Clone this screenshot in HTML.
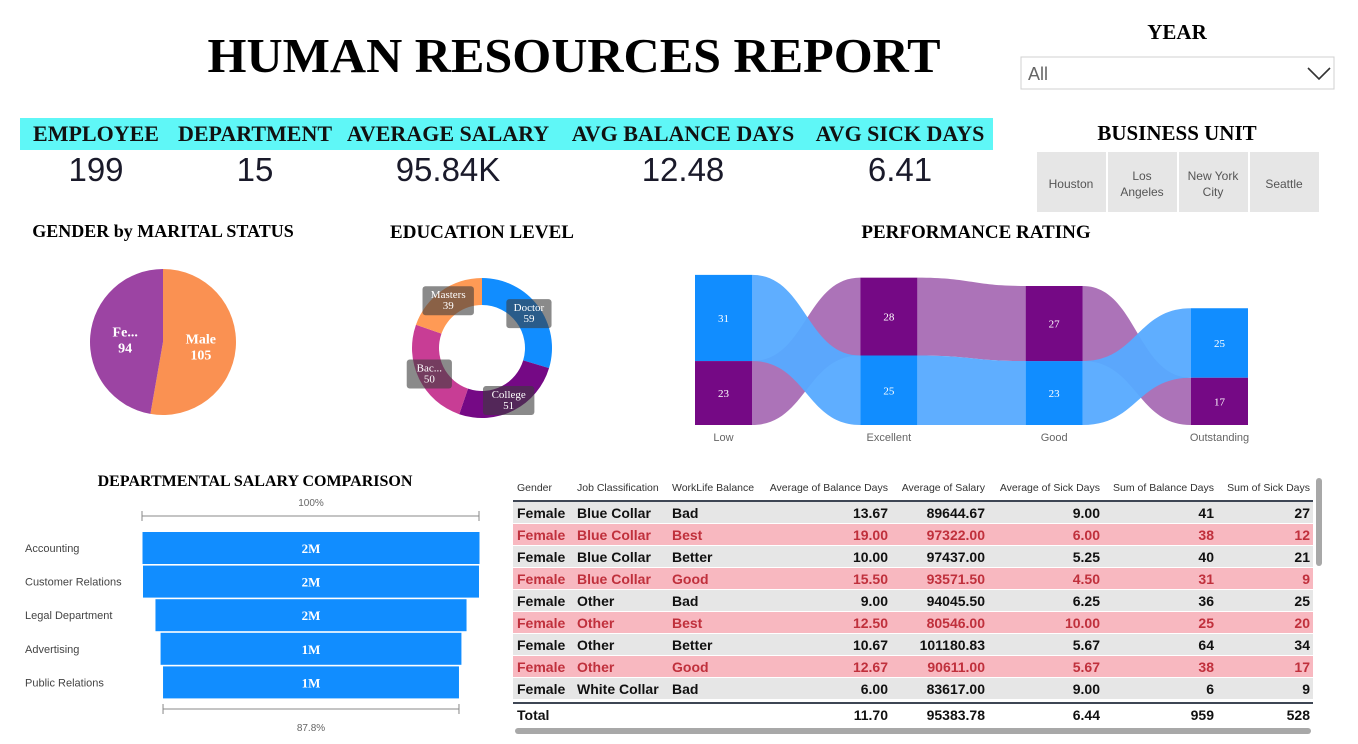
<!DOCTYPE html>
<html><head><meta charset="utf-8"><style>
html,body{margin:0;padding:0;background:#fff;}
svg{display:block;}
.serif{font-family:"Liberation Serif",serif;font-weight:bold;}
.sans{font-family:"Liberation Sans","DejaVu Sans",sans-serif;}
</style></head><body>
<svg id="root" width="1358" height="744" viewBox="0 0 1358 744" xmlns="http://www.w3.org/2000/svg">
<text class="serif" x="574" y="72" font-size="49" text-anchor="middle" textLength="733" lengthAdjust="spacingAndGlyphs" fill="#000">HUMAN RESOURCES REPORT</text>

<text class="serif" x="1177" y="39" font-size="21" text-anchor="middle">YEAR</text>
<g>
<rect x="1021" y="57" width="313" height="32" fill="#fff" stroke="#d0d0d0"/>
<text class="sans" x="1028" y="80" font-size="18" fill="#666">All</text>
<path d="M1308 68 L1319 79 L1330 68" fill="none" stroke="#333" stroke-width="1.6"/>
</g>

<text class="serif" x="1177" y="140" font-size="21" text-anchor="middle">BUSINESS UNIT</text>
<g>
<g><rect x="1037" y="152" width="69" height="60" fill="#e6e6e6"/><text class="sans" x="1071" y="188" font-size="12" text-anchor="middle" fill="#555">Houston</text></g>
<g><rect x="1108" y="152" width="69" height="60" fill="#e6e6e6"/><text class="sans" x="1142" y="180" font-size="12" text-anchor="middle" fill="#555">Los</text><text class="sans" x="1142" y="196" font-size="12" text-anchor="middle" fill="#555">Angeles</text></g>
<g><rect x="1179" y="152" width="69" height="60" fill="#e6e6e6"/><text class="sans" x="1213" y="180" font-size="12" text-anchor="middle" fill="#555">New York</text><text class="sans" x="1213" y="196" font-size="12" text-anchor="middle" fill="#555">City</text></g>
<g><rect x="1250" y="152" width="69" height="60" fill="#e6e6e6"/><text class="sans" x="1284" y="188" font-size="12" text-anchor="middle" fill="#555">Seattle</text></g>
</g>

<rect x="20" y="118" width="973" height="32" fill="#5ff7f7"/>
<g class="serif" font-size="22" text-anchor="middle" fill="#111">
<text x="96" y="141">EMPLOYEE</text>
<text x="255" y="141">DEPARTMENT</text>
<text x="448" y="141">AVERAGE SALARY</text>
<text x="683" y="141">AVG BALANCE DAYS</text>
<text x="900" y="141">AVG SICK DAYS</text>
</g>
<g class="sans" font-size="33" text-anchor="middle" fill="#1a1a2a">
<text x="96" y="181">199</text>
<text x="255" y="181">15</text>
<text x="448" y="181">95.84K</text>
<text x="683" y="181">12.48</text>
<text x="900" y="181">6.41</text>
</g>

<text class="serif" x="163" y="237" font-size="18" text-anchor="middle">GENDER by MARITAL STATUS</text>
<g id="pie"></g>
<text class="serif" x="482" y="238" font-size="19" text-anchor="middle">EDUCATION LEVEL</text>
<g id="donut"></g>
<text class="serif" x="976" y="238" font-size="19" text-anchor="middle">PERFORMANCE RATING</text>
<g id="ribbon"></g>

<text class="serif" x="255" y="486" font-size="16" text-anchor="middle">DEPARTMENTAL SALARY COMPARISON</text>
<g id="funnel"></g>

<g id="table"></g>
</svg>
<script>
const NS="http://www.w3.org/2000/svg";
function mk(tag,attrs,parent,txt){const e=document.createElementNS(NS,tag);for(const k in attrs)e.setAttribute(k,attrs[k]);if(txt!==undefined)e.textContent=txt;parent.appendChild(e);return e;}

// ---- Pie data
const genderLabels=["Male","Fe..."];
const genderValues=[105,94];
const genderColors=["#fa9152","#9c44a3"];
// ---- Donut data
const eduLabels=["Doctor","College","Bac...","Masters"];
const eduValues=[59,51,50,39];
const eduColors=["#118dff","#750985","#c83d95","#ff9a55"];
// ---- Ribbon data
const perfCategories=["Low","Excellent","Good","Outstanding"];
const perfBlue=[31,25,23,25];
const perfPurple=[23,28,27,17];
// ---- Funnel data
const deptNames=["Accounting","Customer Relations","Legal Department","Advertising","Public Relations"];
const deptSalary=[1.65,1.645,1.523,1.473,1.449];
// ---- Table data
const tblHeaders=["Gender","Job Classification","WorkLife Balance","Average of Balance Days","Average of Salary","Average of Sick Days","Sum of Balance Days","Sum of Sick Days"];
const tblGender=["Female","Female","Female","Female","Female","Female","Female","Female","Female"];
const tblJob=["Blue Collar","Blue Collar","Blue Collar","Blue Collar","Other","Other","Other","Other","White Collar"];
const tblWork=["Bad","Best","Better","Good","Bad","Best","Better","Good","Bad"];
const tblAvgBal=["13.67","19.00","10.00","15.50","9.00","12.50","10.67","12.67","6.00"];
const tblAvgSal=["89644.67","97322.00","97437.00","93571.50","94045.50","80546.00","101180.83","90611.00","83617.00"];
const tblAvgSick=["9.00","6.00","5.25","4.50","6.25","10.00","5.67","5.67","9.00"];
const tblSumBal=["41","38","40","31","36","25","64","38","6"];
const tblSumSick=["27","12","21","9","25","20","34","17","9"];
const tblTotal=["Total","","","11.70","95383.78","6.44","959","528"];

function arcPath(cx,cy,r0,r1,a0,a1){
 const p=(r,a)=>[cx+r*Math.sin(a),cy-r*Math.cos(a)];
 const lg=(a1-a0)>Math.PI?1:0;
 const [x1,y1]=p(r1,a0),[x2,y2]=p(r1,a1);
 if(r0===0)return `M${cx} ${cy} L${x1} ${y1} A${r1} ${r1} 0 ${lg} 1 ${x2} ${y2} Z`;
 const [x3,y3]=p(r0,a1),[x4,y4]=p(r0,a0);
 return `M${x1} ${y1} A${r1} ${r1} 0 ${lg} 1 ${x2} ${y2} L${x3} ${y3} A${r0} ${r0} 0 ${lg} 0 ${x4} ${y4} Z`;
}
// Pie
(function(){
 const g=document.getElementById('pie');const cx=163,cy=342,r=73;
 const tot=genderValues.reduce((a,b)=>a+b,0);let a=0;
 genderValues.forEach((v,i)=>{
  const a1=a+v/tot*2*Math.PI;
  const s=mk('path',{d:arcPath(cx,cy,0,r,a,a1),fill:genderColors[i]},g);
  
  
  const m=(a+a1)/2,lr=r*0.52;
  const lx=cx+lr*Math.sin(m),ly=cy-lr*Math.cos(m);
  const t=mk('text',{x:lx,y:ly-2,'text-anchor':'middle',fill:'#fff','font-size':14,'font-weight':'bold','font-family':'Liberation Serif,serif'},g,genderLabels[i]);
  
  const t2=mk('text',{x:lx,y:ly+14,'text-anchor':'middle',fill:'#fff','font-size':14,'font-weight':'bold','font-family':'Liberation Serif,serif'},g,String(v));
  
  a=a1;
 });
})();
// Donut
(function(){
 const g=document.getElementById('donut');const cx=482,cy=348,r1=70,r0=43;
 const tot=eduValues.reduce((a,b)=>a+b,0);let a=0;
 const segs=[];
 eduValues.forEach((v,i)=>{
  const a1=a+v/tot*2*Math.PI;
  const s=mk('path',{d:arcPath(cx,cy,r0,r1,a,a1),fill:eduColors[i]},g);
  
  segs.push([a,a1]);a=a1;
 });
 eduValues.forEach((v,i)=>{
  const m=(segs[i][0]+segs[i][1])/2,lr=(r0+r1)/2+2;
  const lx=cx+lr*Math.sin(m),ly=cy-lr*Math.cos(m);
  const w=Math.max(eduLabels[i].length*6.2+8,36);
  const b=mk('rect',{x:lx-w/2,y:ly-14,width:w,height:29,rx:3,fill:'rgba(60,60,60,0.6)'},g);
  
  const t=mk('text',{x:lx,y:ly-2,'text-anchor':'middle',fill:'#fff','font-size':11,'font-family':'Liberation Serif,serif'},g,eduLabels[i]);
  
  const t2=mk('text',{x:lx,y:ly+9,'text-anchor':'middle',fill:'#fff','font-size':11,'font-family':'Liberation Serif,serif'},g,String(v));
  
 });
})();
// Ribbon
(function(){
 const g=document.getElementById('ribbon');
 const base=425,k=2.78,colW=57,x0=695,x1=1191;
 const n=perfCategories.length;const step=(x1-x0)/(n-1);
 const xs=perfCategories.map((c,i)=>x0+i*step);
 const pos=perfCategories.map((c,i)=>{
  const b=perfBlue[i]*k,p=perfPurple[i]*k;
  if(perfBlue[i]>=perfPurple[i]) return {blue:[base-b-p,base-p],purple:[base-p,base]};
  return {purple:[base-b-p,base-b],blue:[base-b,base]};
 });
 const cols={blue:["#118dff","#56aaff"],purple:["#750985","rgba(132,48,150,0.8)"]};
 for(let i=0;i<n-1;i++){
  ["purple","blue"].forEach(s=>{
   const a=pos[i][s],b=pos[i+1][s];const xa=xs[i]+colW,xb=xs[i+1];const xm=(xa+xb)/2;
   const d=`M${xa} ${a[0]} C${xm} ${a[0]} ${xm} ${b[0]} ${xb} ${b[0]} L${xb} ${b[1]} C${xm} ${b[1]} ${xm} ${a[1]} ${xa} ${a[1]} Z`;
   const p=mk('path',{d:d,fill:cols[s][1],opacity:s==='blue'?0.95:0.85},g);
   
  });
 }
 perfCategories.forEach((c,i)=>{
  ["blue","purple"].forEach(s=>{
   const r=pos[i][s];
   const rc=mk('rect',{x:xs[i],y:r[0],width:colW,height:r[1]-r[0],fill:cols[s][0]},g);
   
   const t=mk('text',{x:xs[i]+colW/2,y:(r[0]+r[1])/2+4,'text-anchor':'middle',fill:'#fff','font-size':11,'font-family':'Liberation Serif,serif'},g,String(s==='blue'?perfBlue[i]:perfPurple[i]));
   
  });
  const l=mk('text',{x:xs[i]+colW/2,y:441,'text-anchor':'middle',fill:'#666','font-size':11,'font-family':'Liberation Sans,sans-serif'},g,c);
  
 });
})();
// Funnel
(function(){
 const g=document.getElementById('funnel');
 const cx=311,maxW=337,top=532,rowH=33.6,barH=32;
 const mx=Math.max(...deptSalary);
 const F='Liberation Sans,sans-serif';
 let l1=mk('path',{d:`M142 511 V521 M142 516 H479 M479 511 V521`,stroke:'#888',fill:'none'},g);
 
 let t=mk('text',{x:cx,y:506,'text-anchor':'middle','font-size':10,fill:'#666','font-family':F},g,'100%');
 
 deptNames.forEach((d,i)=>{
  const w=deptSalary[i]/mx*maxW,y=top+i*rowH;
  const r=mk('rect',{x:cx-w/2,y:y,width:w,height:barH,fill:'#118dff'},g);
  
  const lb=mk('text',{x:cx,y:y+barH/2+5,'text-anchor':'middle',fill:'#fff','font-size':13,'font-weight':'bold','font-family':'Liberation Serif,serif'},g,Math.round(deptSalary[i])+'M');
  
  const c=mk('text',{x:25,y:y+barH/2+4,'font-size':11,fill:'#444','font-family':F},g,d);
  
 });
 const last=deptSalary[deptSalary.length-1]/mx*maxW;
 const l2=mk('path',{d:`M${cx-last/2} 704 V714 M${cx-last/2} 709 H${cx+last/2} M${cx+last/2} 704 V714`,stroke:'#888',fill:'none'},g);
 
 t=mk('text',{x:cx,y:731,'text-anchor':'middle','font-size':10,fill:'#666','font-family':F},g,(deptSalary[deptSalary.length-1]/mx*100).toFixed(1)+'%');
 
})();
// Table
(function(){
 const g=document.getElementById('table');
 const F='Liberation Sans,DejaVu Sans,sans-serif';
 const hx=[517,577,672,888,985,1100,1214,1310];
 tblHeaders.forEach((h,i)=>{
  const t=mk('text',{x:hx[i],y:491,'font-size':10.5,fill:'#333','font-family':F,'text-anchor':i<3?'start':'end'},g,h);
  
 });
 const hl=mk('rect',{x:513,y:500,width:800,height:2,fill:'#3e4654'},g);
 
 const cols=[tblGender,tblJob,tblWork,tblAvgBal,tblAvgSal,tblAvgSick,tblSumBal,tblSumSick];
 for(let r=0;r<tblGender.length;r++){
  const y=502+r*22;const alt=r%2===1;
  const bg=mk('rect',{x:513,y:y,width:800,height:21,fill:alt?'#f8b8c0':'#e6e6e6'},g);
  
  cols.forEach((c,i)=>{
   const t=mk('text',{x:hx[i],y:y+16,'font-size':14,'font-weight':'bold',fill:alt?'#c0303c':'#111','font-family':F,'text-anchor':i<3?'start':'end'},g,c[r]);
   
  });
 }
 const tl=mk('rect',{x:513,y:702,width:800,height:2,fill:'#3e4654'},g);
 
 tblTotal.forEach((v,i)=>{
  if(!v)return;
  const t=mk('text',{x:hx[i],y:720,'font-size':14,'font-weight':'bold',fill:'#111','font-family':F,'text-anchor':i<3?'start':'end'},g,v);
  
 });
 const vs=mk('rect',{x:1316,y:478,width:6,height:88,rx:3,fill:'#a8a8a8'},g);
 
 const hs=mk('rect',{x:515,y:728,width:796,height:6,rx:3,fill:'#a8a8a8'},g);
 
})();
</script>
</body></html>
